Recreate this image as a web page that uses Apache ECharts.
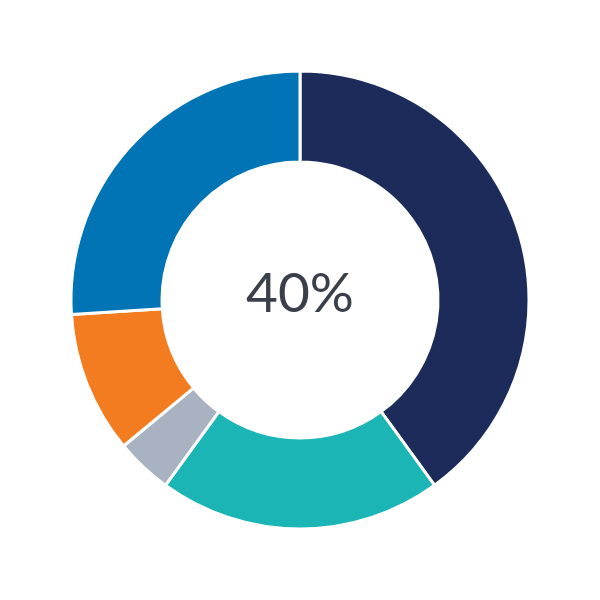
<!DOCTYPE html>
<html><head><meta charset="utf-8">
<script src="https://cdn.jsdelivr.net/npm/echarts@6/dist/echarts.min.js"></script>
<style>html,body{margin:0;padding:0;background:#fff}#c{width:600px;height:600px}</style>
</head><body><div id="c"></div>
<script>
const categories = ['A', 'B', 'C', 'D', 'E'];
const values = [40, 20, 4, 10, 26];
const colors = ['#1c2b5a', '#1bb5b6', '#a8b2c0', '#f47c20', '#0074b4'];
const centerLabel = '40%';
const chart = echarts.init(document.getElementById('c'));
chart.setOption({
  animation: false,
  title: {text: centerLabel, left: 'center', top: 262,
    textStyle: {fontFamily: 'Lato', fontWeight: 'normal', fontSize: 55, color: '#3a3f4a'}},
  series: [{
    type: 'pie', center: ['50%', '50%'], radius: [138, 229], startAngle: 90, clockwise: true,
    label: {show: false}, labelLine: {show: false},
    itemStyle: {borderColor: '#fff', borderWidth: 3},
    data: categories.map((c, i) => ({name: c, value: values[i], itemStyle: {color: colors[i]}}))
  }]
});
</script></body></html>
